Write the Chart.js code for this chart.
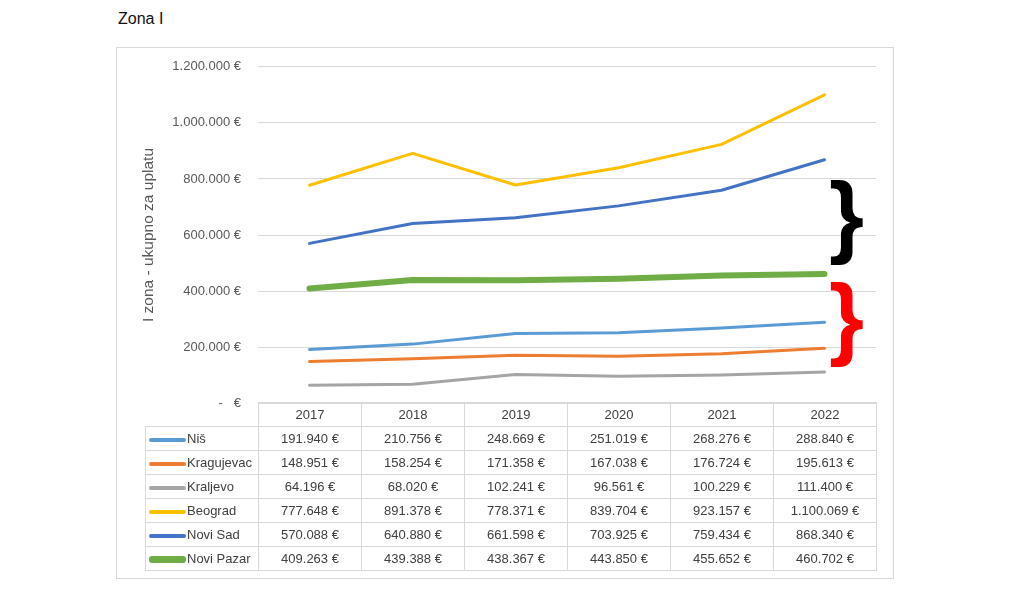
<!DOCTYPE html>
<html>
<head>
<meta charset="utf-8">
<script src="https://cdn.jsdelivr.net/npm/chart.js@4/dist/chart.umd.min.js"></script>
<style>
body { margin: 0; background: #fff; font-family: "Liberation Sans", Arial, sans-serif; }
#title { position: absolute; left: 118px; top: 10px; font-size: 16px; color: #111; }
#box { position: absolute; left: 116px; top: 47px; width: 776px; height: 530px; border: 1px solid #d9d9d9; }
#chart { position: absolute; left: 116px; top: 42px; }
#tbl { position: absolute; left: 145px; top: 402px; border-collapse: collapse; table-layout: fixed;
       font-size: 13px; color: #404040; }
#tbl td { border: 1px solid #d9d9d9; padding: 0; text-align: center; white-space: nowrap; }
#tbl tr { height: 24px; }
#tbl td.lg { text-align: left; }
#tbl td.blank { border-top: none; border-left: none; }
.sw { display: inline-block; width: 37px; border-radius: 3px; vertical-align: middle; margin: 0 1px 0 3px; }
.brace { position: absolute; font-family: "Liberation Sans", Arial, sans-serif; font-size: 90px; font-weight: bold; line-height: 1; }
</style>
</head>
<body>
<div id="title">Zona I</div>
<div id="box"></div>
<canvas id="chart" width="777" height="386"></canvas>
<table id="tbl"></table>
<span class="brace" style="left:829px; top:170px; color:#000;">}</span>
<span class="brace" style="left:829px; top:272px; color:#ff0000;">}</span>
<script>
// podaci
const years = ['2017', '2018', '2019', '2020', '2021', '2022'];
const cities = ['Niš', 'Kragujevac', 'Kraljevo', 'Beograd', 'Novi Sad', 'Novi Pazar'];
const nis = [191940, 210756, 248669, 251019, 268276, 288840];
const kragujevac = [148951, 158254, 171358, 167038, 176724, 195613];
const kraljevo = [64196, 68020, 102241, 96561, 100229, 111400];
const beograd = [777648, 891378, 778371, 839704, 923157, 1100069];
const noviSad = [570088, 640880, 661598, 703925, 759434, 868340];
const noviPazar = [409263, 439388, 438367, 443850, 455652, 460702];

const seriesValues = [nis, kragujevac, kraljevo, beograd, noviSad, noviPazar];
const colors = ['#5b9bd5', '#ed7d31', '#a5a5a5', '#ffc000', '#4472c4', '#70ad47'];
const widths = [3, 3, 3, 3, 3, 6];

// format: 1.200.000 €
function euro(v) {
    if (v === 0) return '-   €';
    return String(Math.round(v)).replace(/\B(?=(\d{3})+(?!\d))/g, '.') + ' €';
}

// tabela ispod grafikona
const tbl = document.getElementById('tbl');
let html = '<colgroup><col style="width:113px">' + years.map(() => '<col style="width:103px">').join('') + '</colgroup>';
html += '<tr><td class="blank"></td>' + years.map(y => '<td>' + y + '</td>').join('') + '</tr>';
cities.forEach((c, i) => {
    html += '<tr><td class="lg"><span class="sw" style="height:' + (widths[i] + 1) + 'px;background:' + colors[i] + '"></span>' + c + '</td>';
    html += seriesValues[i].map(v => '<td>' + euro(v) + '</td>').join('') + '</tr>';
});
tbl.innerHTML = html;

Chart.defaults.font.family = '"Liberation Sans", Arial, sans-serif';

const ctx = document.getElementById('chart').getContext('2d');
const myChart = new Chart(ctx, {
    type: 'line',
    data: {
        labels: years,
        datasets: cities.map((c, i) => ({
            label: c,
            data: seriesValues[i],
            borderColor: colors[i],
            backgroundColor: colors[i],
            borderWidth: widths[i],
            borderCapStyle: 'round',
            borderJoinStyle: 'round',
            tension: 0,
            fill: false,
            pointRadius: 0,
            clip: false
        }))
    },
    options: {
        responsive: false,
        animation: false,
        layout: { padding: { top: 14, right: 17, bottom: 5, left: 0 } },
        plugins: { legend: { display: false }, tooltip: { enabled: false } },
        scales: {
            x: {
                offset: true,
                display: false
            },
            y: {
                min: 0,
                max: 1200000,
                afterFit: s => { s.width = 142; },
                ticks: {
                    stepSize: 200000,
                    color: '#595959',
                    font: { size: 13 },
                    padding: 17,
                    callback: v => euro(v)
                },
                grid: { color: '#d9d9d9', drawTicks: false },
                border: { display: false },
                title: {
                    display: true,
                    text: 'I zona - ukupno za uplatu',
                    color: '#595959',
                    font: { size: 15.5 },
                    padding: { top: 23, bottom: 0 }
                }
            }
        }
    }
});
</script>
</body>
</html>
